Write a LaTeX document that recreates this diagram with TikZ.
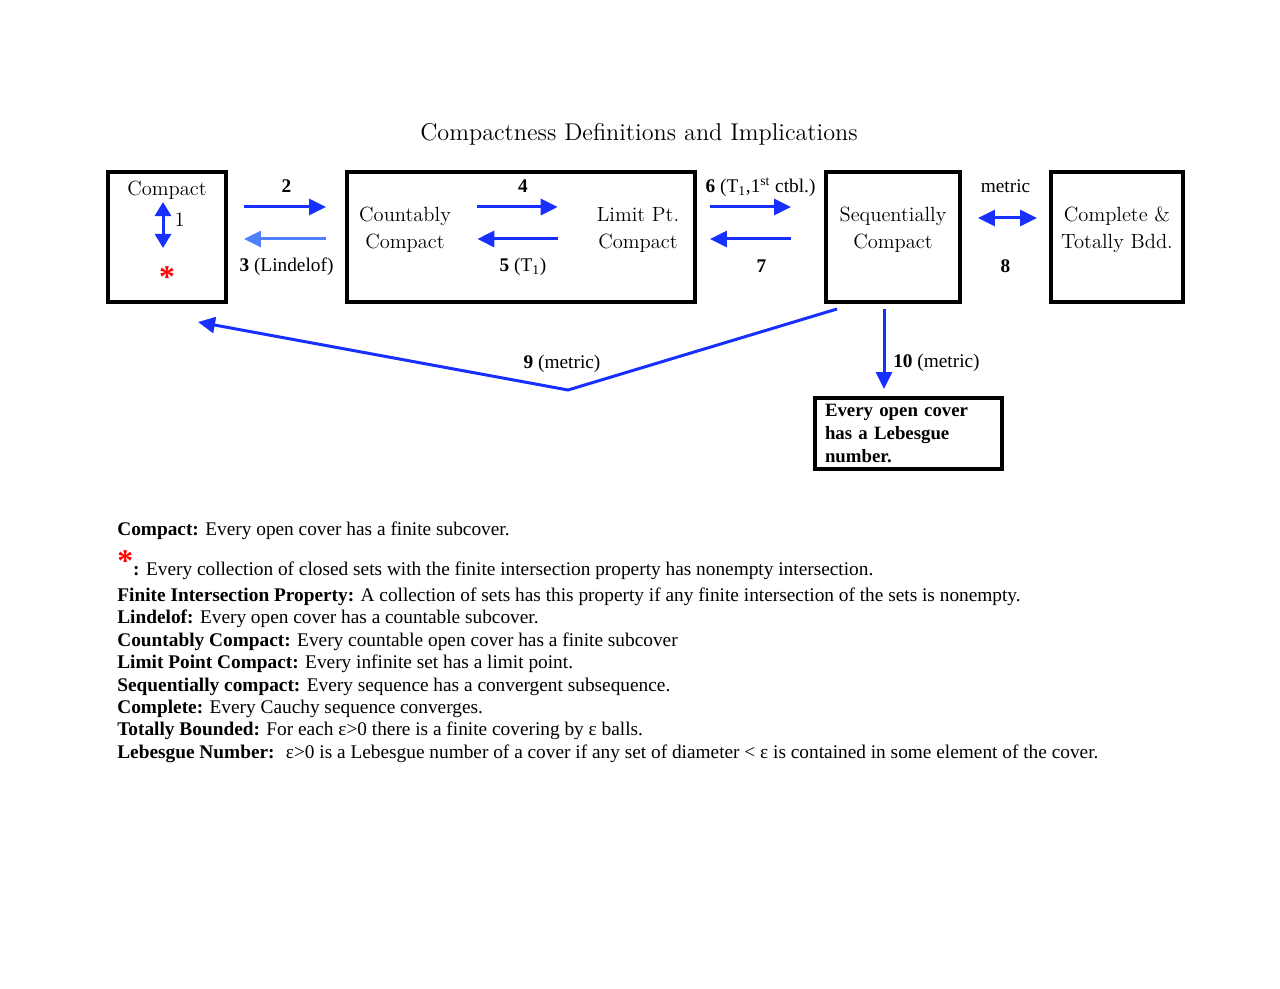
\documentclass[tikz,border=0pt]{standalone}
\usepackage{fontspec}
\newfontfamily\tms{Liberation Serif}
\usetikzlibrary{arrows.meta,calc,positioning}
\definecolor{impblue}{RGB}{24,48,255}
\definecolor{implight}{RGB}{80,128,255}

\begin{document}
\begin{tikzpicture}[x=0.02cm,y=-0.02cm,
    >={Triangle[length=0.34cm,width=0.32cm]},
    box/.style={draw,line width=0.08cm,inner sep=0pt,minimum height=2.6cm},
    imp/.style={draw=impblue,line width=0.06cm,->},
    lbl/.style={font=\tms\fontsize{11}{13}\selectfont,inner sep=1pt},
    boxtxt/.style={font=\fontsize{11.7}{15.3}\selectfont,align=center,inner sep=0pt}]
  \useasboundingbox (0,0) rectangle (1280,989);
  \node[font=\fontsize{13.8}{16}\selectfont] (title) at (639,134) {Compactness Definitions and Implications};
  % the boxes
  \node[box,minimum width=2.36cm] (cpt) at (167,237) {};
  \node[box,minimum width=6.96cm] (cl) at (521,237) {};
  \node[box,minimum width=2.68cm] (seq) at (893,237) {};
  \node[box,minimum width=2.64cm] (ctb) at (1117,237) {};
  \node[box,minimum height=1.42cm,font=\tms\bfseries\fontsize{10.7}{12.9}\selectfont,align=left,
        text width=3.34cm,inner xsep=0.2cm,inner ysep=1pt] (leb) at (908.5,433.5)
        {Every open cover\\has a Lebesgue\\number.};
  \node[boxtxt] (cptlbl) at (167,190) {Compact};
  \node[boxtxt,minimum width=2.88cm] (cnt) at (405,230) {Countably\\Compact};
  \node[boxtxt,minimum width=3.2cm] (lpt) at (638,230) {Limit Pt.\\Compact};
  \node[boxtxt] (seqlbl) at (893,230) {Sequentially\\Compact};
  \node[boxtxt] (ctblbl) at (1117,230) {Complete \&\\Totally Bdd.};
  \node[text=red,inner sep=0pt,font=\tms\bfseries\fontsize{18}{18}\selectfont] (star) at (167,277) {*};
  % the implications
  \coordinate (up) at (0,207);
  \coordinate (dn) at (0,239);
  \coordinate (mid) at (0,218);
  \draw[imp,<->,>={Triangle[length=0.28cm,width=0.32cm]}] ([xshift=-0.08cm,yshift=-0.64cm]cpt.north)
    -- node[boxtxt,right=0.2cm,yshift=0.1cm]{1} ([xshift=-0.08cm,yshift=-1.56cm]cpt.north);
  \draw[imp,shorten <=0.32cm,shorten >=0.38cm] (cpt.east |- up)
    -- node[lbl,yshift=0.42cm]{\textbf{2}} (cl.west |- up);
  \draw[imp,draw=implight,shorten <=0.38cm,shorten >=0.32cm] (cl.west |- dn)
    -- node[lbl,yshift=-0.56cm]{\textbf{3} (Lindelof)} (cpt.east |- dn);
  \draw[imp] (cnt.east |- up) -- node[lbl,yshift=0.42cm,xshift=0.11cm]{\textbf{4}} (lpt.west |- up);
  \draw[imp] (lpt.west |- dn) -- node[lbl,yshift=-0.56cm,xshift=0.11cm]{\textbf{5} (T\textsubscript{1})} (cnt.east |- dn);
  \draw[imp,shorten <=0.26cm,shorten >=0.66cm] (cl.east |- up)
    -- node[lbl,yshift=0.4cm]{\textbf{6} (T\textsubscript{1},1\textsuperscript{st} ctbl.)} (seq.west |- up);
  \draw[imp,shorten <=0.66cm,shorten >=0.26cm] (seq.west |- dn)
    -- node[lbl,yshift=-0.54cm,xshift=0.02cm]{\textbf{7}} (cl.east |- dn);
  \draw[imp,<->,shorten <=0.32cm,shorten >=0.24cm] (seq.east |- mid)
    -- node[lbl,yshift=0.64cm]{metric} node[lbl,yshift=-0.96cm]{\textbf{8}} (ctb.west |- mid);
  \coordinate (v9) at (568,390);
  \draw[imp] ($(seq.south west)+(13,5)$) -- (v9) -- ($(cpt.south)+(31,18)$);
  \node[lbl,above=0.3cm of v9,xshift=-0.12cm] (l9) {\textbf{9} (metric)};
  \coordinate (s10) at ($(seq.south)+(-9,0)$);
  \draw[imp,shorten <=0.1cm,shorten >=0.14cm] (s10)
    -- node[lbl,right=0.12cm,pos=0.64]{\textbf{10} (metric)} (s10 |- leb.north);
  % definitions
  \begin{scope}[every node/.style={anchor=base west,inner sep=0pt,font=\tms\fontsize{11}{13}\selectfont}]
    \node (d0) at (117,535) {\textbf{Compact:} Every open cover has a finite subcover.};
    \node (dstar) at (117,575) {{\color{red}\bfseries\fontsize{18}{18}\selectfont\raisebox{.25ex}{*}}\textbf{:} Every collection of closed sets with the finite intersection property has nonempty intersection.};
    \foreach \trm/\dsc [count=\i] in {
        {Finite Intersection Property:}/{A collection of sets has this property if any finite intersection of the sets is nonempty.},
        {Lindelof:}/{Every open cover has a countable subcover.},
        {Countably Compact:}/{Every countable open cover has a finite subcover},
        {Limit Point Compact:}/{Every infinite set has a limit point.},
        {Sequentially compact:}/{Every sequence has a convergent subsequence.},
        {Complete:}/{Every Cauchy sequence converges.},
        {Totally Bounded:}/{For each ε>0 there is a finite covering by ε balls.},
        {Lebesgue Number:}/{\ ε>0 is a Lebesgue number of a cover if any set of diameter < ε is contained in some element of the cover.}}
      \node (d\i) at (117,{601.5+22.4*(\i-1)}) {\textbf{\trm} \dsc};
  \end{scope}
\end{tikzpicture}
\end{document}
